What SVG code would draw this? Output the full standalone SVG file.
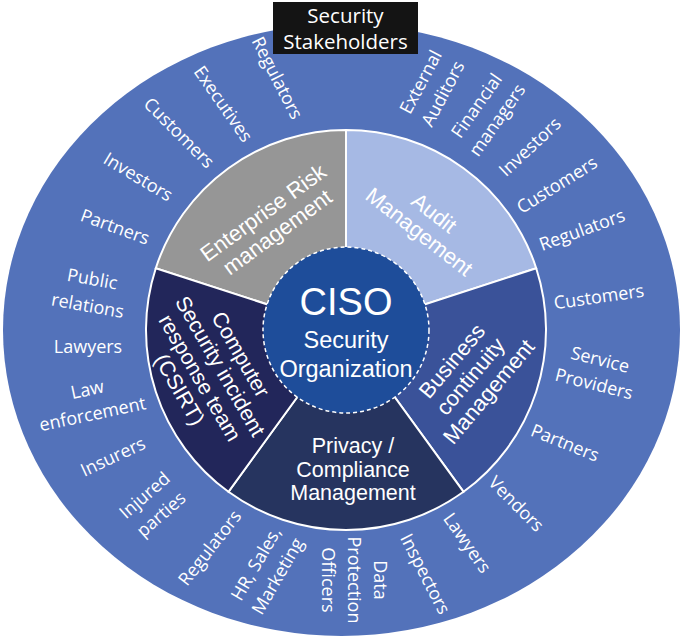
<svg xmlns="http://www.w3.org/2000/svg" width="685" height="643" viewBox="0 0 685 643">
<style>
.sec{stroke:#ffffff;stroke-width:2}
.st{font-family:"Liberation Sans",Arial,sans-serif;font-size:22px;fill:#ffffff;text-anchor:middle}
.ol{font-family:"Open Sans","DejaVu Sans",sans-serif;font-size:18px;fill:#ffffff;text-anchor:middle}
</style>
<rect width="685" height="643" fill="#ffffff"/>
<g id="stakeholders-ring">
<ellipse cx="341.5" cy="330" rx="338.5" ry="306" fill="#5372BA"/>
</g>
<g id="stakeholder-labels">
<text class="ol" transform="translate(277,78) rotate(63)" y="6">Regulators</text>
<text class="ol" transform="translate(223,104) rotate(55)" y="6">Executives</text>
<text class="ol" transform="translate(179,133) rotate(45)" y="6">Customers</text>
<text class="ol" transform="translate(138,177) rotate(31)" y="6">Investors</text>
<text class="ol" transform="translate(115,227) rotate(20)" y="6">Partners</text>
<text class="ol" transform="translate(90,292) rotate(10)"><tspan x="0" y="-7">Public</tspan><tspan x="0" y="20">relations</tspan></text>
<text class="ol" transform="translate(88,347)" y="6">Lawyers</text>
<text class="ol" transform="translate(90,402) rotate(-12)"><tspan x="0" y="-6.5">Law</tspan><tspan x="0" y="18.5">enforcement</tspan></text>
<text class="ol" transform="translate(113,457) rotate(-25)" y="6">Insurers</text>
<text class="ol" transform="translate(153,505) rotate(-41)"><tspan x="0" y="-6.5">Injured</tspan><tspan x="0" y="18.5">parties</tspan></text>
<text class="ol" transform="translate(210,548) rotate(-52)" y="6">Regulators</text>
<text class="ol" transform="translate(267,570) rotate(-60)"><tspan x="0" y="-6.5">HR, Sales,</tspan><tspan x="0" y="18.5">Marketing</tspan></text>
<text class="ol" transform="translate(354,580) rotate(90)"><tspan x="0" y="-19.5">Data</tspan><tspan x="0" y="6">Protection</tspan><tspan x="0" y="32">Officers</tspan></text>
<text class="ol" transform="translate(425,574) rotate(63)" y="6">Inspectors</text>
<text class="ol" transform="translate(467,543) rotate(55)" y="6">Lawyers</text>
<text class="ol" transform="translate(516,504) rotate(45)" y="6">Vendors</text>
<text class="ol" transform="translate(565,443) rotate(22)" y="6">Partners</text>
<text class="ol" transform="translate(597,372) rotate(14)"><tspan x="0" y="-6.5">Service</tspan><tspan x="0" y="18.5">Providers</tspan></text>
<text class="ol" transform="translate(599,297) rotate(-8)" y="6">Customers</text>
<text class="ol" transform="translate(582,230) rotate(-20)" y="6">Regulators</text>
<text class="ol" transform="translate(557,185) rotate(-32)" y="6">Customers</text>
<text class="ol" transform="translate(530,147) rotate(-43)" y="6">Investors</text>
<text class="ol" transform="translate(487,113) rotate(-55)"><tspan x="0" y="-6.5">Financial</tspan><tspan x="0" y="18.5">managers</tspan></text>
<text class="ol" transform="translate(432,88) rotate(-62)"><tspan x="0" y="-6.5">External</tspan><tspan x="0" y="18.5">Auditors</tspan></text>
</g>
<g id="erm">
<path class="sec" d="M346 330 L155.78 268.2 A200 200 0 0 1 346 130 Z" fill="#969696"/>
<text class="st" transform="translate(270,222) rotate(-36)"><tspan x="0" y="-4">Enterprise Risk</tspan><tspan x="0" y="20">management</tspan></text>
</g>
<g id="audit">
<path class="sec" d="M346 330 L346 130 A200 200 0 0 1 536.22 268.2 Z" fill="#A6B9E4"/>
<text class="st" transform="translate(427,222) rotate(38)"><tspan x="0" y="-4">Audit</tspan><tspan x="0" y="20">Management</tspan></text>
</g>
<g id="business-continuity">
<path class="sec" d="M346 330 L536.22 268.2 A200 200 0 0 1 463.56 491.8 Z" fill="#3A5299"/>
<text class="st" transform="translate(470,376) rotate(-50)"><tspan x="0" y="-16">Business</tspan><tspan x="0" y="8">continuity</tspan><tspan x="0" y="32">Management</tspan></text>
</g>
<g id="privacy">
<path class="sec" d="M346 330 L463.56 491.8 A200 200 0 0 1 228.44 491.8 Z" fill="#26345F"/>
<text class="st" style="font-size:21.5px" x="353"><tspan x="353" y="453">Privacy /</tspan><tspan x="353" y="477">Compliance</tspan><tspan x="353" y="500">Management</tspan></text>
</g>
<g id="csirt">
<path class="sec" d="M346 330 L228.44 491.8 A200 200 0 0 1 155.78 268.2 Z" fill="#22265A"/>
<text class="st" style="font-size:21.5px" transform="translate(210,372) rotate(60)"><tspan x="0" y="-28">Computer</tspan><tspan x="0" y="-4.5">Security incident</tspan><tspan x="0" y="19">response team</tspan><tspan x="0" y="42.5">(CSIRT)</tspan></text>
</g>
<g id="ciso">
<circle cx="346" cy="330" r="83" fill="#1E4D9A" stroke="#ffffff" stroke-width="1.5" stroke-dasharray="4 3"/>
<text class="st" style="font-size:38px" x="346" y="315">CISO</text>
<text class="st" style="font-size:23.5px" x="346" y="348">Security</text>
<text class="st" style="font-size:23.5px" x="346" y="377">Organization</text>
</g>
<g id="title">
<rect x="273" y="2" width="145" height="52" fill="#141414"/>
<text class="ol" style="font-size:20.5px" x="345.5" y="23">Security</text>
<text class="ol" style="font-size:20.5px" x="345.5" y="49">Stakeholders</text>
</g>
</svg>
